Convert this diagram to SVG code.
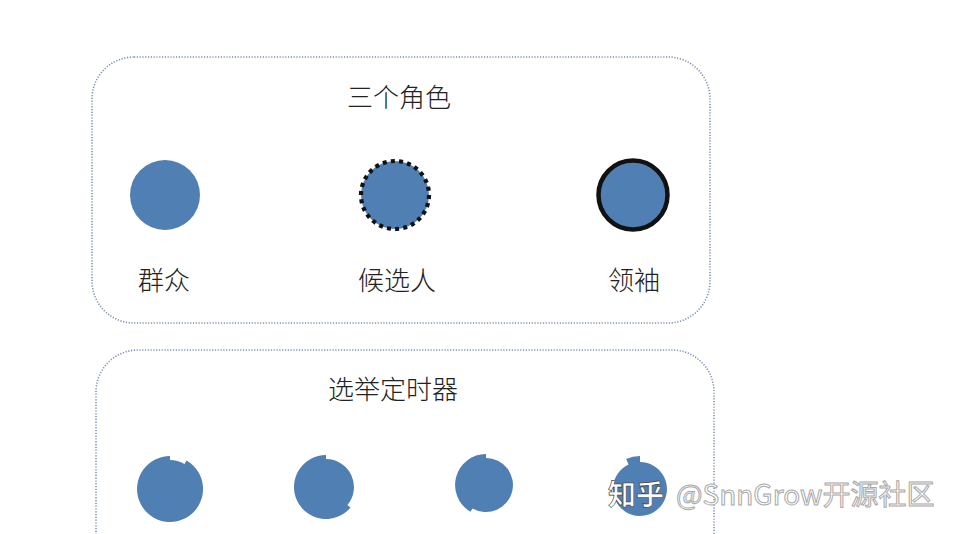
<svg xmlns="http://www.w3.org/2000/svg" width="959" height="534" viewBox="0 0 959 534">
<style>
.box{fill:none;stroke:#7f8fb8;stroke-width:1.6;stroke-dasharray:1.2 1.6}
.dot{fill:#4f7fb3}
.t{font-family:"Noto Sans CJK SC","Noto Sans",sans-serif;font-size:26px;fill:#222;text-anchor:middle;dominant-baseline:central;font-weight:300}
.wm{font-family:"Noto Sans CJK SC","Noto Sans",sans-serif;font-size:28px;dominant-baseline:central}
</style>
<rect width="959" height="534" fill="#ffffff"/>
<g id="roles">
<rect class="box" x="92" y="57" width="618" height="266" rx="42"/>
<text class="t" x="399" y="95">三个角色</text>
</g>
<g id="crowd">
<circle class="dot" cx="165" cy="195" r="35"/>
<text class="t" x="164" y="278">群众</text>
</g>
<g id="candidate">
<circle class="dot" cx="395" cy="195" r="34" stroke="#111" stroke-width="4.2" stroke-dasharray="4 4.2"/>
<text class="t" x="397" y="278">候选人</text>
</g>
<g id="leader">
<circle class="dot" cx="633" cy="195" r="34.5" stroke="#111" stroke-width="4.5"/>
<text class="t" x="634" y="278">领袖</text>
</g>
<g id="timers">
<path class="box" d="M96,560 V392 A42,42 0 0 1 138,350 H672 A42,42 0 0 1 714,392 V560"/>
<text class="t" x="393" y="387">选举定时器</text>
</g>
<g id="timer1">
<path class="dot" d="M170,460 A29,29 0 0 1 184.5,463.9 L186.5,460.4 A33,33 0 1 1 170,456 Z"/>
</g>
<g id="timer2">
<path class="dot" d="M326,459 A28,28 0 0 1 347.4,505 L350.5,507.6 A32,32 0 1 1 326,455 Z"/>
</g>
<g id="timer3">
<path class="dot" d="M486,458 A27,27 0 1 1 472.5,508.4 L470.5,511.8 A31,31 0 0 1 486,454 Z"/>
</g>
<g id="timer4">
<path class="dot" d="M640,462 A27,27 0 1 1 628.6,464.5 L626.1,459.1 A33,33 0 0 1 640,456 Z"/>
</g>
<g id="watermark">
<text class="wm" x="608" y="493" fill="#ffffff" stroke="#333" stroke-width="0.6" font-weight="700">知乎</text>
<text class="wm" x="676" y="493" fill="#ffffff" stroke="#a8a8a8" stroke-width="1">@SnnGrow开源社区</text>
</g>
</svg>
